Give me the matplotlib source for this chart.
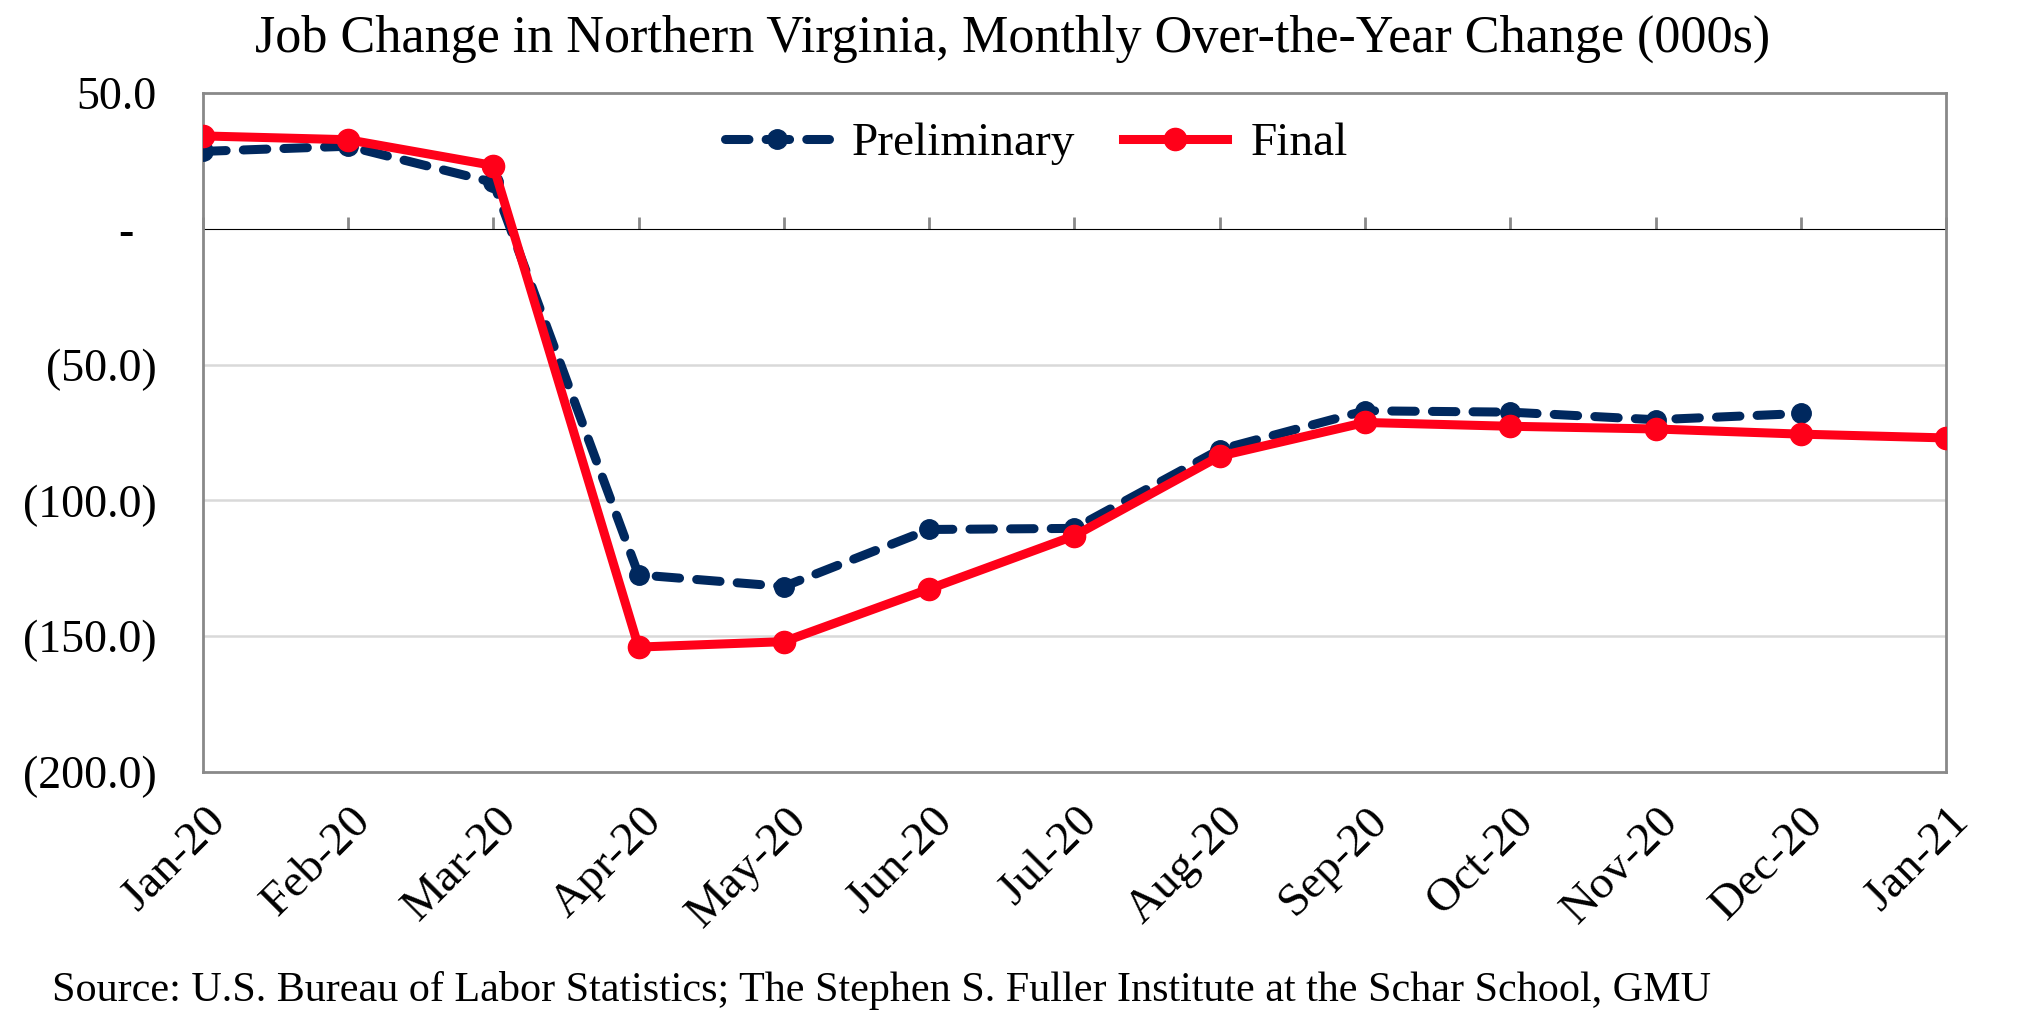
import matplotlib
matplotlib.use("Agg")
import matplotlib.pyplot as plt
import matplotlib.transforms as mtrans
import numpy as np

months = ["Jan-20", "Feb-20", "Mar-20", "Apr-20", "May-20", "Jun-20", "Jul-20",
          "Aug-20", "Sep-20", "Oct-20", "Nov-20", "Dec-20", "Jan-21"]
preliminary = [28.5, 30.4, 17.1, -127.4, -131.7, -110.7, -110.3, -81.3, -67.0, -67.5, -70.3, -68.0]
final = [34.2, 32.8, 23.3, -154.0, -152.0, -132.6, -113.0, -83.7, -71.3, -72.7, -73.7, -75.6, -77.0]
yticks = [-200, -150, -100, -50, 0, 50]
ytick_labels = ["(200.0)", "(150.0)", "(100.0)", "(50.0)", "-  ", "50.0"]

plt.rcParams['font.family'] = ['Liberation Serif', 'DejaVu Serif']

fig = plt.figure(figsize=(20.25, 10.22), dpi=100)
ax = fig.add_axes([0.1001, 0.2446, 0.861, 0.6644])

navy = "#00285E"
red = "#FF0019"
grey = "#898989"

x = np.arange(len(months))
ax.plot(x[:len(preliminary)], preliminary, color=navy, lw=6.5, ls=(0, (2.6, 1.9)),
        marker='o', ms=14, dash_capstyle='round', label="Preliminary", zorder=3)
ax.plot(x, final, color=red, lw=6.5, marker='o', ms=16, label="Final", zorder=4)

ax.set_xlim(0, len(months) - 1)
ax.set_ylim(-200, 50)
ax.set_yticks(yticks)
ax.set_yticklabels(ytick_labels, fontsize=33)
ax.tick_params(axis='y', length=0, pad=33)
for v in [-150, -100, -50]:
    ax.axhline(v, color="#D9D9D9", lw=1.8, zorder=1)

ax.set_xticks(x)
ax.set_xticklabels(months, rotation=45, ha='right', rotation_mode='anchor', fontsize=34)
ax.tick_params(axis='x', length=0, pad=20)
offset = mtrans.ScaledTranslation(1/72, 0, fig.dpi_scale_trans)
for lab in ax.get_xticklabels():
    lab.set_transform(lab.get_transform() + offset)

for s in ax.spines.values():
    s.set_color(grey)
    s.set_linewidth(2)

sec = ax.secondary_xaxis(0.8)
sec.set_xticks(x)
sec.set_xticklabels([])
sec.tick_params(axis='x', direction='out', length=9, width=2, color=grey)
sec.spines['bottom'].set_color(grey)
sec.spines['bottom'].set_linewidth(2)

leg = ax.legend(loc='center', bbox_to_anchor=(0.478, 0.925), ncol=2, frameon=False,
                fontsize=34, handlelength=2.2, columnspacing=1.0, handletextpad=0.5)

fig.text(0.5, 0.962, "Job Change in Northern Virginia, Monthly Over-the-Year Change (000s)",
         ha='center', va='center', fontsize=37.5)
fig.text(0.0255, 0.031, "Source: U.S. Bureau of Labor Statistics; The Stephen S. Fuller Institute at the Schar School, GMU",
         ha='left', va='center', fontsize=30.3)

fig.savefig("out.png", dpi=100)
